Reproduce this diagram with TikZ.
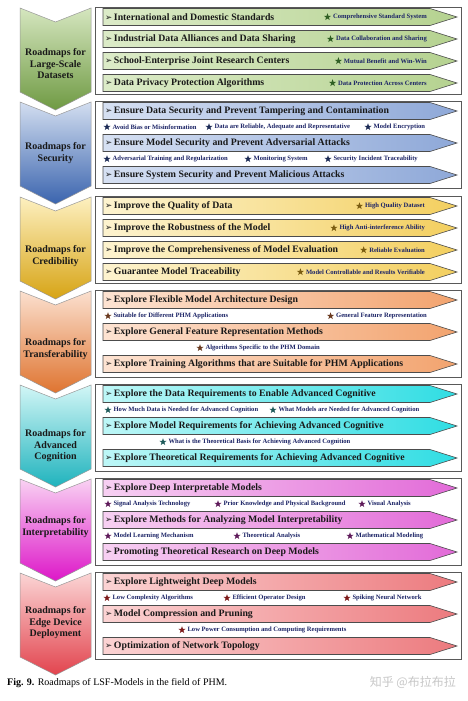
\documentclass[tikz,border=0pt]{standalone}
\usepackage{fontspec}
\setmainfont{Liberation Serif}
\newfontfamily\djv{DejaVu Sans}
\newfontfamily\cjk{Noto Sans CJK SC}
\usetikzlibrary{shapes.geometric,positioning}

\definecolor{navytxt}{HTML}{1C2466}
% green
\definecolor{gCt}{HTML}{D5E6BF}\definecolor{gCb}{HTML}{6F9A43}
\definecolor{gAl}{HTML}{DCEBC8}\definecolor{gAr}{HTML}{B5D290}\definecolor{gS}{HTML}{2F5F23}
% blue
\definecolor{bCt}{HTML}{D3DEF0}\definecolor{bCb}{HTML}{3A64AE}
\definecolor{bAl}{HTML}{D6E0F2}\definecolor{bAr}{HTML}{8EA8D8}\definecolor{bS}{HTML}{1B2A55}
% yellow
\definecolor{yCt}{HTML}{FDF0C0}\definecolor{yCb}{HTML}{D7A415}
\definecolor{yAl}{HTML}{FDF3CF}\definecolor{yAr}{HTML}{F3CF5F}\definecolor{yS}{HTML}{7A5C10}
% orange
\definecolor{oCt}{HTML}{FBE0CF}\definecolor{oCb}{HTML}{DF7430}
\definecolor{oAl}{HTML}{FDE3D2}\definecolor{oAr}{HTML}{F2A36E}\definecolor{oS}{HTML}{6A3A20}
% cyan
\definecolor{cCt}{HTML}{D2F6F6}\definecolor{cCb}{HTML}{1FB3BD}
\definecolor{cAl}{HTML}{BDF7F7}\definecolor{cAr}{HTML}{2FDDE3}\definecolor{cS}{HTML}{1D5A5A}
% magenta
\definecolor{mCt}{HTML}{F9D2F3}\definecolor{mCb}{HTML}{DD17C8}
\definecolor{mAl}{HTML}{F7D0F2}\definecolor{mAr}{HTML}{E26AD8}\definecolor{mS}{HTML}{5E1A5A}
% red
\definecolor{rCt}{HTML}{FBD5D5}\definecolor{rCb}{HTML}{E2444E}
\definecolor{rAl}{HTML}{FBD3D3}\definecolor{rAr}{HTML}{EC7A7E}\definecolor{rS}{HTML}{7D1A1A}

\tikzset{
  chevbase/.style={draw=black!40, line width=0.5pt},
  arrbase/.style={draw=black!70, line width=0.6pt},
  boxstyle/.style={draw=black!65, line width=0.8pt, fill=white},
  maintxt/.style={font=\fontsize{9.8}{11}\selectfont\bfseries, text=black!90, inner sep=0pt},
  subtxt/.style={font=\fontsize{6.6}{7}\selectfont\bfseries, text=navytxt, inner sep=0pt},
  chevtxt/.style={font=\fontsize{10}{11.5}\selectfont\bfseries, align=center, text=black!90, inner sep=0pt},
  starmark/.style={star, star points=5, star point ratio=2.5, minimum size=7.5pt, inner sep=0pt, fill=#1, draw=none},
}

% #1 name, #2 y, #3 left colour, #4 right colour, #5 text
\newcommand\mkarrow[5]{%
  \path[arrbase, left color=#3, right color=#4] (103,{#2-8.5}) -- (430,{#2-8.5}) -- (457,#2) -- (430,{#2+8.5}) -- (103,{#2+8.5}) -- cycle;
  \node[maintxt, anchor=west] (#1) at (105,#2) {{\djv\fontsize{8.5}{8.5}\selectfont ➢}\,#5};
}
% #1 name, #2 x end, #3 y, #4 star colour, #5 text
\newcommand\mkstarR[5]{%
  \node[subtxt, anchor=east] (#1) at (#2,#3) {#5};
  \node[starmark=#4, left=3pt of #1] (#1s) {};
}
% #1 name, #2 star x, #3 y, #4 star colour, #5 text
\newcommand\mkstarL[5]{%
  \node[starmark=#4] (#1s) at (#2,#3) {};
  \node[subtxt, right=3pt of #1s] (#1) {#5};
}
% #1 T, #2 top colour, #3 bottom colour
\newcommand\mkchev[3]{%
  \path[chevbase, top color=#2, bottom color=#3] (20,{#1+1}) -- (55.5,{#1+15}) -- (91,{#1+1}) -- (91,{#1+85}) -- (55.5,{#1+103}) -- (20,{#1+85}) -- cycle;
  \draw[boxstyle] (95,#1) rectangle (461,{#1+87});
}

\begin{document}
\begin{tikzpicture}[x=1pt,y=-1pt]
\useasboundingbox[fill=white] (0,0) rectangle (468,701);

% ---------- 1 Large-scale datasets (green)
\mkchev{7}{gCt}{gCb}
\node[chevtxt] (c1) at (55.5,64) {Roadmaps for\\Large-Scale\\Datasets};
\mkarrow{g1}{17}{gAl}{gAr}{International and Domestic Standards}
\mkarrow{g2}{39}{gAl}{gAr}{Industrial Data Alliances and Data Sharing}
\mkarrow{g3}{61}{gAl}{gAr}{School-Enterprise Joint Research Centers}
\mkarrow{g4}{83}{gAl}{gAr}{Data Privacy Protection Algorithms}
\mkstarR{g1t}{427}{17}{gS}{Comprehensive Standard System}
\mkstarR{g2t}{427}{39}{gS}{Data Collaboration and Sharing}
\mkstarR{g3t}{427}{61}{gS}{Mutual Benefit and Win-Win}
\mkstarR{g4t}{427}{83}{gS}{Data Protection Across Centers}

% ---------- 2 Security (blue)
\mkchev{101}{bCt}{bCb}
\node[chevtxt] (c2) at (55.5,153) {Roadmaps for\\Security};
\mkarrow{b1}{111}{bAl}{bAr}{Ensure Data Security and Prevent Tampering and Contamination}
\mkarrow{b2}{143}{bAl}{bAr}{Ensure Model Security and Prevent Adversarial Attacks}
\mkarrow{b3}{175}{bAl}{bAr}{Ensure System Security and Prevent Malicious Attacks}
\mkstarL{b1a}{107}{127}{bS}{Avoid Bias or Misinformation}
\mkstarL{b1b}{209}{127}{bS}{Data are Reliable, Adequate and Representative}
\mkstarL{b1c}{368}{127}{bS}{Model Encryption}
\mkstarL{b2a}{107}{159}{bS}{Adversarial Training and Regularization}
\mkstarL{b2b}{248}{159}{bS}{Monitoring System}
\mkstarL{b2c}{328}{159}{bS}{Security Incident Traceability}

% ---------- 3 Credibility (yellow)
\mkchev{196}{yCt}{yCb}
\node[chevtxt] (c3) at (55.5,256) {Roadmaps for\\Credibility};
\mkarrow{y1}{206}{yAl}{yAr}{Improve the Quality of Data}
\mkarrow{y2}{228}{yAl}{yAr}{Improve the Robustness of the Model}
\mkarrow{y3}{250}{yAl}{yAr}{Improve the Comprehensiveness of Model Evaluation}
\mkarrow{y4}{272}{yAl}{yAr}{Guarantee Model Traceability}
\mkstarR{y1t}{425}{206}{yS}{High Quality Dataset}
\mkstarR{y2t}{425}{228}{yS}{High Anti-interference Ability}
\mkstarR{y3t}{425}{250}{yS}{Reliable Evaluation}
\mkstarR{y4t}{425}{272}{yS}{Model Controllable and Results Verifiable}

% ---------- 4 Transferability (orange)
\mkchev{290}{oCt}{oCb}
\node[chevtxt] (c4) at (55.5,349) {Roadmaps for\\Transferability};
\mkarrow{o1}{300}{oAl}{oAr}{Explore Flexible Model Architecture Design}
\mkarrow{o2}{332}{oAl}{oAr}{Explore General Feature Representation Methods}
\mkarrow{o3}{364}{oAl}{oAr}{Explore Training Algorithms that are Suitable for PHM Applications}
\mkstarL{o1a}{108}{316}{oS}{Suitable for Different PHM Applications}
\mkstarR{o1b}{427}{316}{oS}{General Feature Representation}
\mkstarL{o2a}{200}{348}{oS}{Algorithms Specific to the PHM Domain}

% ---------- 5 Advanced cognition (cyan)
\mkchev{384}{cCt}{cCb}
\node[chevtxt] (c5) at (55.5,446) {Roadmaps for\\Advanced\\Cognition};
\mkarrow{a1}{394}{cAl}{cAr}{Explore the Data Requirements to Enable Advanced Cognitive}
\mkarrow{a2}{426}{cAl}{cAr}{Explore Model Requirements for Achieving Advanced Cognitive}
\mkarrow{a3}{458}{cAl}{cAr}{Explore Theoretical Requirements for Achieving Advanced Cognitive}
\mkstarL{a1a}{108}{410}{cS}{How Much Data is Needed for Advanced Cognition}
\mkstarL{a1b}{273}{410}{cS}{What Models are Needed for Advanced Cognition}
\mkstarL{a2a}{163}{442}{cS}{What is the Theoretical Basis for Achieving Advanced Cognition}

% ---------- 6 Interpretability (magenta)
\mkchev{478}{mCt}{mCb}
\node[chevtxt] (c6) at (55.5,527) {Roadmaps for\\Interpretability};
\mkarrow{m1}{488}{mAl}{mAr}{Explore Deep Interpretable Models}
\mkarrow{m2}{520}{mAl}{mAr}{Explore Methods for Analyzing Model Interpretability}
\mkarrow{m3}{552}{mAl}{mAr}{Promoting Theoretical Research on Deep Models}
\mkstarL{m1a}{108}{504}{mS}{Signal Analysis Technology}
\mkstarL{m1b}{218}{504}{mS}{Prior Knowledge and Physical Background}
\mkstarL{m1c}{362}{504}{mS}{Visual Analysis}
\mkstarL{m2a}{108}{536}{mS}{Model Learning Mechanism}
\mkstarL{m2b}{237}{536}{mS}{Theoretical Analysis}
\mkstarL{m2c}{350}{536}{mS}{Mathematical Modeling}

% ---------- 7 Edge device deployment (red)
\mkchev{572}{rCt}{rCb}
\node[chevtxt] (c7) at (55.5,623) {Roadmaps for\\Edge Device\\Deployment};
\mkarrow{r1}{582}{rAl}{rAr}{Explore Lightweight Deep Models}
\mkarrow{r2}{614}{rAl}{rAr}{Model Compression and Pruning}
\mkarrow{r3}{646}{rAl}{rAr}{Optimization of Network Topology}
\mkstarL{r1a}{107}{598}{rS}{Low Complexity Algorithms}
\mkstarL{r1b}{227}{598}{rS}{Efficient Operator Design}
\mkstarL{r1c}{347}{598}{rS}{Spiking Neural Network}
\mkstarL{r2a}{182}{630}{rS}{Low Power Consumption and Computing Requirements}

% ---------- caption and mark
\node[anchor=west, inner sep=0pt, font=\fontsize{10}{12}\selectfont] (cap) at (7,683) {\textbf{Fig. 9.} Roadmaps of LSF-Models in the field of PHM.};
\node[anchor=east, inner sep=0pt, font=\cjk\fontsize{12}{14}\selectfont, text=black!22] (wm) at (456,682) {知乎 @布拉布拉};
\end{tikzpicture}
\end{document}
